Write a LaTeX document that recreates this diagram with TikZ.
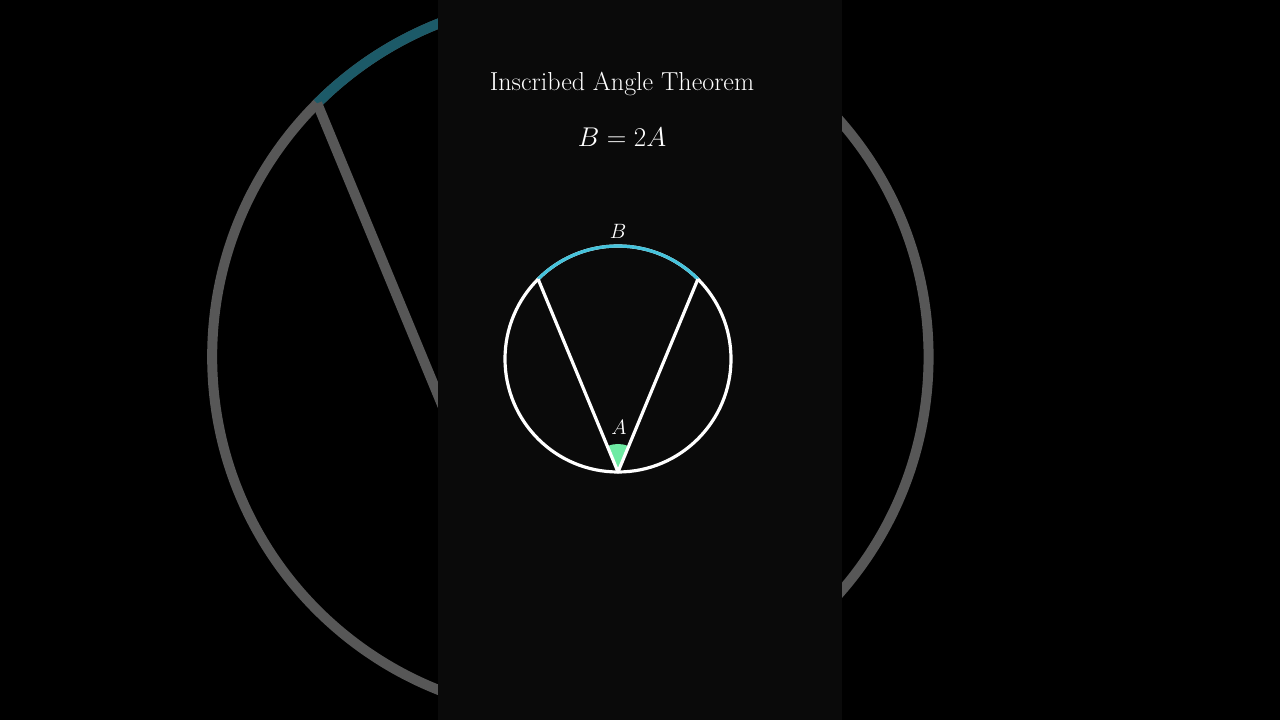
\documentclass[tikz,border=0pt]{standalone}
\usepackage{amsmath}
\usetikzlibrary{calc}
\definecolor{panelgray}{HTML}{0A0A0A}
\definecolor{arccyan}{HTML}{45C3DC}
\definecolor{wedgegreen}{HTML}{6EEBA3}
\definecolor{dimgray}{HTML}{575757}
\definecolor{dimteal}{HTML}{1C5A68}
\def\rad{113}
% circle, arc B, wedge A and the two chords
\newcommand{\inscribed}[4]{%
	\coordinate (O) at (618,361);
	\coordinate (V) at ($(O)+(-90:\rad)$);
	\coordinate (P) at ($(O)+(45:\rad)$);
	\coordinate (Q) at ($(O)+(135:\rad)$);
	\fill[#3] (V) -- ++(67.5:28) arc[start angle=67.5, end angle=112.5, radius=28] -- cycle;
	\draw[#1, line width=#4] (O) circle[radius=\rad];
	\draw[#2, line width=#4] (P) arc[start angle=45, end angle=135, radius=\rad];
	\draw[#1, line width=#4, line join=round] (Q) -- (V) -- (P);
}

\begin{document}
\begin{tikzpicture}
	[
	x=1pt, y=1pt,
	title/.style = {text=white, font=\fontsize{26}{30}\selectfont},
	formula/.style = {text=white, font=\fontsize{24.88}{30}\selectfont, scale=1.09},
	anglabel/.style = {text=white, font=\fontsize{20.74}{22}\selectfont, inner sep=0pt}
	]
	
	\fill[black] (0,0) rectangle (1280,720);
	\useasboundingbox (0,0) rectangle (1280,720);
	
	% blown-up copy behind the panel
	\begin{scope}[shift={(640,360)}, scale=3.17, shift={(-640,-360)}]
		\inscribed{dimgray}{dimteal}{dimgray}{10pt}
	\end{scope}
	
	\fill[panelgray] (438,0) rectangle (842,720);
	
	\inscribed{white}{arccyan}{wedgegreen}{3.2pt}
	
	\node[title] (head) at (622,636) {Inscribed Angle Theorem};
	\node[formula] (eq) at (622,583) {$B = 2A$};
	\node[anglabel] (labB) at (618,489) {$B$};
	\node[anglabel] (labA) at (619,293) {$A$};
\end{tikzpicture}
\end{document}
